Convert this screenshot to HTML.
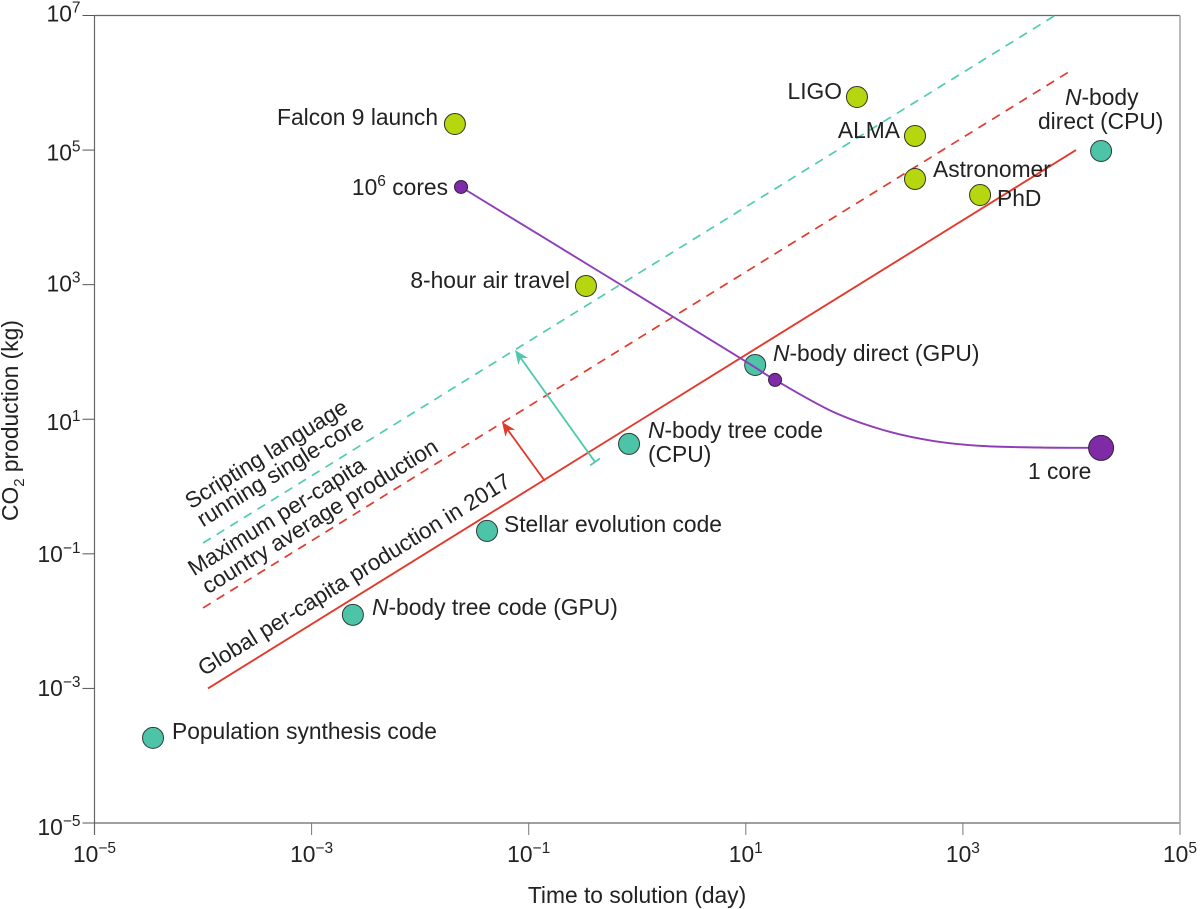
<!DOCTYPE html>
<html lang="en">
<head>
<meta charset="utf-8">
<title>CO2 production vs time to solution</title>
<style>
html,body{margin:0;padding:0;background:#fff;width:1200px;height:909px;overflow:hidden}
svg{display:block}
text{font-family:"Liberation Sans",Arial,sans-serif;font-size:22.8px;fill:#222}
text.slanted{font-size:22.5px}
</style>
</head>
<body>
<svg id="chart" xmlns="http://www.w3.org/2000/svg" width="1200" height="909" viewBox="0 0 1200 909">
  <rect x="0" y="0" width="1200" height="909" fill="#fff"/>
  <g id="axes"></g>
  <g id="lines"></g>
  <g id="points"></g>
  <g id="curve"></g>
  <g id="labels">
    <text x="637" y="903" text-anchor="middle">Time to solution (day)</text>
    <text transform="translate(18,521) rotate(-90)">CO<tspan font-size="15" dy="6">2</tspan><tspan dy="-6"> production (kg)</tspan></text>
    <text x="172" y="739">Population synthesis code</text>
    <text x="372" y="615"><tspan font-style="italic">N</tspan>-body tree code (GPU)</text>
    <text x="504" y="532">Stellar evolution code</text>
    <text x="648" y="438"><tspan font-style="italic">N</tspan>-body tree code</text>
    <text x="648" y="462">(CPU)</text>
    <text x="773" y="361"><tspan font-style="italic">N</tspan>-body direct (GPU)</text>
    <text x="1065" y="105"><tspan font-style="italic">N</tspan>-body</text>
    <text x="1038" y="129">direct (CPU)</text>
    <text x="438" y="125" text-anchor="end">Falcon 9 launch</text>
    <text x="570" y="288" text-anchor="end">8-hour air travel</text>
    <text x="842" y="99" text-anchor="end">LIGO</text>
    <text x="900" y="138" text-anchor="end">ALMA</text>
    <text x="933" y="177">Astronomer</text>
    <text x="997" y="206">PhD</text>
    <text x="448" y="195" text-anchor="end">10<tspan font-size="15.5" dy="-9">6</tspan><tspan dy="9"> cores</tspan></text>
    <text x="1028" y="479">1 core</text>
    <text class="slanted" transform="translate(191,509.5) rotate(-31.8)">Scripting language</text>
    <text class="slanted" transform="translate(203,527.5) rotate(-31.8)">running single-core</text>
    <text class="slanted" transform="translate(194,576.5) rotate(-31.8)">Maximum per-capita</text>
    <text class="slanted" transform="translate(208,594.5) rotate(-31.8)">country average production</text>
    <text class="slanted" transform="translate(204,676.5) rotate(-31.8)">Global per-capita production in 2017</text>
  </g>
</svg>
<script>
// Axis tick exponents (base 10)
const xTickExponents = [-5, -3, -1, 1, 3, 5];
const yTickExponents = [-5, -3, -1, 1, 3, 5, 7];

// Code runs (teal)
const codeTime = [3.46e-5, 2.40e-3, 0.0413, 0.84, 12.2, 18750];
const codeCO2 = [1.84e-4, 0.0124, 0.219, 4.30, 64.1, 97000];

// Reference activities (yellow-green)
const activityTime = [0.0209, 0.337, 105.7, 362, 362, 1439];
const activityCO2 = [244000, 957, 615000, 162000, 37200, 21500];

// Core count curve (purple)
const curveTime = [0.0238, 0.454, 8.85, 18.6, 63.5, 184, 530, 1531, 5130, 18750];
const curveCO2 = [28300, 1545, 81.5, 38.4, 12.9, 6.93, 4.76, 4.01, 3.80, 3.75];
const coreTime = [0.0238, 18.6, 18750];
const coreCO2 = [28300, 38.4, 3.75];
const coreSizes = [6.5, 6.5, 12.5];

// Reference lines: start and end values
const globalTime = [1.11e-4, 11000];
const globalCO2 = [1e-3, 1e5];
const maximumTime = [1e-4, 10100];
const maximumCO2 = [0.0157, 1.55e6];
const scriptingTime = [1e-4, 7050];
const scriptingCO2 = [0.145, 1e7];

// Arrows: start and end values
const redArrowTime = [0.141, 0.0568];
const redArrowCO2 = [1.21, 9.12];
const tealArrowTime = [0.408, 0.0748];
const tealArrowCO2 = [2.32, 107];

const NS = 'http://www.w3.org/2000/svg';
const X0 = 94.5, X1 = 1180, Y0 = 823, Y1 = 15.5;
function xPos(v){ return X0 + (Math.log10(v) + 5) / 10 * (X1 - X0); }
function yPos(v){ return Y0 - (Math.log10(v) + 5) / 12 * (Y0 - Y1); }
function make(tag, attrs, parent){
  const el = document.createElementNS(NS, tag);
  for (const k in attrs) el.setAttribute(k, attrs[k]);
  parent.appendChild(el);
  return el;
}
const axes = document.getElementById('axes');
const lines = document.getElementById('lines');
const points = document.getElementById('points');
const curve = document.getElementById('curve');

function axisSegment(x1, y1, x2, y2, stroke, width, name){
  const el = make('line', {x1:x1, y1:y1, x2:x2, y2:y2, stroke:stroke, 'stroke-width':width}, axes);
  
  
}
axisSegment(X0, Y1, X1, Y1, '#666', 1.2, 'top-axis');
axisSegment(X0, Y0, X1, Y0, '#666', 1.2, 'bottom-axis');
axisSegment(X0, Y1, X0, Y0 + 12, '#666', 1.2, 'left-axis');
axisSegment(X1, Y1, X1, Y0 + 12, '#a8a8a8', 1.6, 'right-axis');

function tickLabel(exp, attrs, name){
  const t = make('text', attrs, axes);
  
  
  t.appendChild(document.createTextNode('10'));
  const s = make('tspan', {'font-size':'15.5', dy:'-9'}, t);
  s.textContent = String(exp).replace('-', '\u2212');
}
xTickExponents.forEach(function(e){
  const x = xPos(Math.pow(10, e));
  if (e !== -5 && e !== 5) axisSegment(x, Y0, x, Y0 + 12, '#777', 1, 'x-tick');
  tickLabel(e, {x:x, y:862, 'text-anchor':'middle'}, 'x-tick-label');
});
// Label placement relative to each y tick (layout only, varies in the original artwork)
function yLabelShift(e){
  if (e === 7) return 6;
  if (e === 5 || e === 1) return 10.5;
  if (e === 3) return 6.7;
  if (e === -1) return 8;
  if (e === -3) return 7.5;
  return 12;
}
yTickExponents.forEach(function(e){
  const y = yPos(Math.pow(10, e));
  axisSegment(X0 - 12, y, X0, y, '#555', 1, 'y-tick');
  tickLabel(e, {x:80.5, y:y + yLabelShift(e), 'text-anchor':'end'}, 'y-tick-label');
});

function refLine(ts, vs, stroke, dash, width, name){
  const el = make('line', {x1:xPos(ts[0]), y1:yPos(vs[0]), x2:xPos(ts[1]), y2:yPos(vs[1]), stroke:stroke, 'stroke-width':width}, lines);
  if (dash) el.setAttribute('stroke-dasharray', dash);
  
  
}
refLine(scriptingTime, scriptingCO2, '#4fcdb0', '9 7', 1.7, 'scripting-language-line');
refLine(maximumTime, maximumCO2, '#e23b2e', '9 7', 1.7, 'maximum-per-capita-line');
refLine(globalTime, globalCO2, '#e23b2e', null, 1.9, 'global-per-capita-line');

function arrow(ts, vs, color, bar, name){
  const x1 = xPos(ts[0]), y1 = yPos(vs[0]), x2 = xPos(ts[1]), y2 = yPos(vs[1]);
  const len = Math.hypot(x2 - x1, y2 - y1), ux = (x2 - x1) / len, uy = (y2 - y1) / len;
  const L = 14, W = 6, N = 10;
  const shaft = make('line', {x1:x1, y1:y1, x2:x2 - ux * N, y2:y2 - uy * N, stroke:color, 'stroke-width':1.8}, lines);
  
  
  const pts = [x2, y2, x2 - ux * L - uy * W, y2 - uy * L + ux * W, x2 - ux * N, y2 - uy * N, x2 - ux * L + uy * W, y2 - uy * L - ux * W];
  const head = make('polygon', {points:pts.map(function(n){return n.toFixed(1);}).join(' '), fill:color}, lines);
  
  
  if (bar) {
    const cap = make('line', {x1:x1 - uy * 6, y1:y1 + ux * 6, x2:x1 + uy * 6, y2:y1 - ux * 6, stroke:color, 'stroke-width':1.8}, lines);
    
    
  }
}
arrow(redArrowTime, redArrowCO2, '#e03a2c', false, 'red-arrow');
arrow(tealArrowTime, tealArrowCO2, '#4fc9ac', true, 'teal-arrow');

codeTime.forEach(function(t, i){
  const c = make('circle', {cx:xPos(t), cy:yPos(codeCO2[i]), r:10.5, fill:'#4dc4a8', stroke:'#2c3a36', 'stroke-width':1}, points);
  
  
});
activityTime.forEach(function(t, i){
  const c = make('circle', {cx:xPos(t), cy:yPos(activityCO2[i]), r:10.5, fill:'#b6d70f', stroke:'#2f3320', 'stroke-width':1}, points);
  
  
});

const cx = curveTime.map(xPos), cy = curveCO2.map(yPos);
let d = 'M' + cx[0].toFixed(1) + ' ' + cy[0].toFixed(1);
for (let i = 0; i < cx.length - 1; i++) {
  const a = Math.max(i - 1, 0), b = Math.min(i + 2, cx.length - 1);
  d += ' C' + (cx[i] + (cx[i + 1] - cx[a]) / 6).toFixed(1) + ' ' + (cy[i] + (cy[i + 1] - cy[a]) / 6).toFixed(1) +
       ' ' + (cx[i + 1] - (cx[b] - cx[i]) / 6).toFixed(1) + ' ' + (cy[i + 1] - (cy[b] - cy[i]) / 6).toFixed(1) +
       ' ' + cx[i + 1].toFixed(1) + ' ' + cy[i + 1].toFixed(1);
}
const path = make('path', {d:d, fill:'none', stroke:'#8f3db8', 'stroke-width':1.9}, curve);


coreTime.forEach(function(t, i){
  const c = make('circle', {cx:xPos(t), cy:yPos(coreCO2[i]), r:coreSizes[i], fill:'#7f2aa6', stroke:'#2e2436', 'stroke-width':1}, curve);
  
  
});
</script>
</body>
</html>
